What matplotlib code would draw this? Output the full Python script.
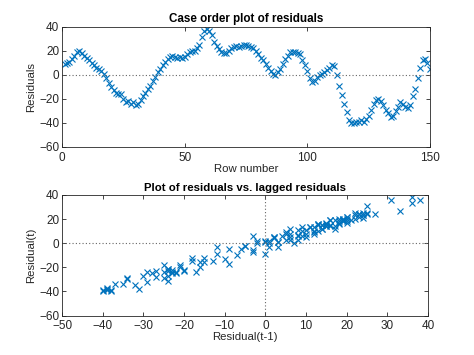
import numpy as np
import matplotlib
matplotlib.use("Agg")
import matplotlib.pyplot as plt

# residuals (rows 1..150)
residuals = [
    9, 10, 11, 13, 16, 19, 20,
    18, 16, 14, 12, 10, 8, 6, 5, 3, 1,
    -3, -7, -10, -13, -15, -16, -16,
    -20, -23, -22, -24, -23, -25, -24, -21,
    -18, -15, -12, -9, -5, -2, 2, 5, 8, 11, 13, 15,
    16, 15, 14, 15, 14, 15, 17, 19, 20, 20,
    22, 25, 31, 36, 38, 36, 33, 27,
    24, 21, 19, 18, 18, 20, 22, 23,
    24, 23, 24, 25, 25, 24, 23,
    22, 20, 17, 14, 12, 9, 6, 3, 1, 0,
    2, 5, 9, 13, 16, 19, 19, 19, 18, 17,
    12, 8, 3, -3,
    -6, -5, -2, 0, 1, 2, 4, 6, 8, 7,
    0, -9, -17, -24, -31, -38,
    -40, -40, -39, -39, -38, -39, -37,
    -34, -29, -24, -21, -20, -22, -25, -29, -32, -35,
    -34, -30, -27, -23, -24, -27, -28, -25, -18, -12,
    -3, 6, 12, 13, 10, 5,
]
rows = np.arange(1, len(residuals) + 1)
r = np.array(residuals, dtype=float)
lag_prev = r[:-1]
lag_curr = r[1:]

blue = (0, 0.447, 0.741)
dark = (0.15, 0.15, 0.15)
dotc = (0.4, 0.4, 0.4)

plt.rcParams['font.family'] = ['Liberation Sans', 'DejaVu Sans']
plt.rcParams['font.size'] = 8.5

fig = plt.figure(figsize=(4.74, 3.55), dpi=100)
ax1 = fig.add_axes([0.131, 0.586, 0.776, 0.339])
ax2 = fig.add_axes([0.131, 0.111, 0.772, 0.340])


def matlab_style(ax):
    for s in ax.spines.values():
        s.set_color(dark)
        s.set_linewidth(0.6)
    ax.tick_params(direction='in', top=True, right=True, colors=dark,
                   labelcolor=dark, length=3, width=0.6, labelsize=8.5, pad=2)
    ax.tick_params(axis='x', pad=3.5)


# case order plot
ax1.plot(rows, r, 'x', color=blue, ms=5, mew=0.8)
ax1.axhline(0, color=dotc, ls=(0, (1, 2)), lw=0.8)
ax1.set_xlim(0, 150)
ax1.set_ylim(-60, 40)
ax1.set_xticks([0, 50, 100, 150])
ax1.set_yticks(np.arange(-60, 41, 20))
ax1.set_title('Case order plot of residuals', fontweight='bold', fontsize=8.4, pad=3)
ax1.set_xlabel('Row number', color=dark, fontsize=8.2, labelpad=0)
ax1.set_ylabel('Residuals', color=dark, fontsize=8.2, labelpad=2)
matlab_style(ax1)

# lagged residuals
ax2.plot(lag_prev, lag_curr, 'x', color=blue, ms=5, mew=0.8)
ax2.axhline(0, color=dotc, ls=(0, (1, 2)), lw=0.8)
ax2.axvline(0, color=dotc, ls=(0, (1, 2)), lw=0.8)
ax2.set_xlim(-50, 40)
ax2.set_ylim(-60, 40)
ax2.set_xticks(np.arange(-50, 41, 10))
ax2.set_yticks(np.arange(-60, 41, 20))
ax2.set_title('Plot of residuals vs. lagged residuals', fontweight='bold', fontsize=8.2, pad=3)
ax2.set_xlabel('Residual(t-1)', color=dark, fontsize=8.2, labelpad=0)
ax2.set_ylabel('Residual(t)', color=dark, fontsize=8.2, labelpad=2)
matlab_style(ax2)

fig.savefig('out.png', dpi=100)
